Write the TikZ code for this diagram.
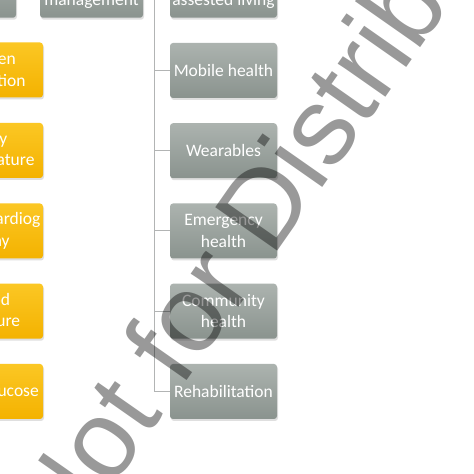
\documentclass[tikz,border=0pt]{standalone}
\usepackage{fontspec}
\setmainfont{Carlito}
\newfontfamily\wmfont{Liberation Sans}
\usetikzlibrary{shadows}
\definecolor{gtop}{RGB}{172,179,175}
\definecolor{gbot}{RGB}{138,147,142}
\definecolor{ytop}{RGB}{251,199,36}
\definecolor{ybot}{RGB}{244,178,0}
\definecolor{connc}{RGB}{178,180,180}
\tikzset{
  box/.style={rectangle, rounded corners=3pt, minimum width=107pt, minimum height=55pt,
    inner sep=0pt, text=white, align=center,
    font=\fontsize{17.5}{21.5}\selectfont,
    drop shadow={opacity=0.25, shadow xshift=1pt, shadow yshift=-2pt}},
  graybox/.style={box, top color=gtop, bottom color=gbot},
  yelbox/.style={box, top color=ytop, bottom color=ybot},
  conn/.style={draw=connc, line width=1pt},
  wm/.style={text=black, text opacity=0.4, font=\wmfont\fontsize{110}{110}\selectfont, inner sep=0pt}
}
\begin{document}
\begin{tikzpicture}[x=1pt,y=1pt]
\useasboundingbox (0,0) rectangle (474,474);
\clip (0,0) rectangle (474,474);
\fill[white] (0,0) rectangle (474,474);
% top row (cut off)
\node[graybox] (tl) at (-37.5,483.75) {};
\node[graybox, minimum width=103pt] (mgmt) at (91.5,483.75) {\phantom{X}\\management};
\node[graybox] (aal) at (223.5,483.75) {\phantom{X}\\assested living};
% right column
\node[graybox] (mob) at (223.5,403.5) {Mobile health};
\node[graybox] (wea) at (223.5,323.25) {Wearables};
\node[graybox] (emg) at (223.5,243) {Emergency\\health};
\node[graybox] (com) at (223.5,162.75) {Community\\health};
\node[graybox] (reh) at (223.5,82.5) {Rehabilitation};
% left column (cut off)
\node[yelbox] (oxy) at (-10.5,404) {Oxygen\\saturation};
\node[yelbox] (tmp) at (-10.5,323.5) {Body\\temperature};
\node[yelbox] (ecg) at (-10.5,243) {Electrocardiog\\raphy};
\node[yelbox] (bp) at (-10.5,162.75) {Blood\\pressure};
\node[yelbox] (glu) at (-10.5,82.5) {Blood glucose};
% connectors
\coordinate (trunktop) at (154,480);
\draw[conn] (trunktop) -- (trunktop |- reh.west) -- (reh.west);
\draw[conn] (trunktop |- mob.west) -- (mob.west);
\draw[conn] (trunktop |- wea.west) -- (wea.west);
\draw[conn] (trunktop |- emg.west) -- (emg.west);
\draw[conn] (trunktop |- com.west) -- (com.west);
% watermark
\node[wm, rotate=55, anchor=base] (wmk) at (327,293) {Not for Distribution};
\end{tikzpicture}
\end{document}
